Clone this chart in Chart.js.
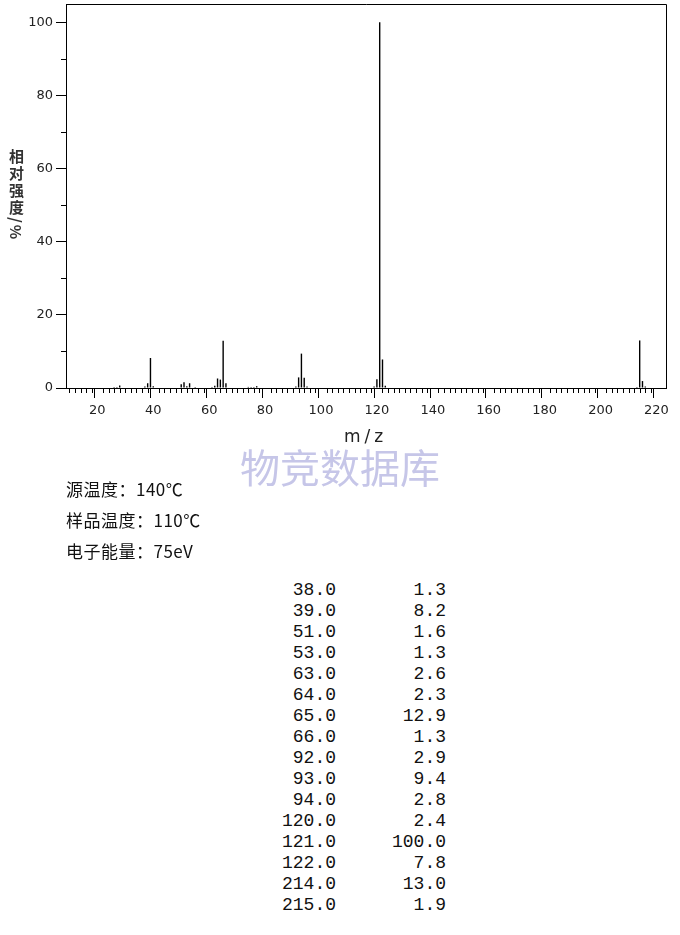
<!DOCTYPE html>
<html>
<head>
<meta charset="utf-8">
<script src="https://cdn.jsdelivr.net/npm/chart.js@4/dist/chart.umd.min.js"></script>
<style>
	body { margin: 0; background: #fff; width: 680px; height: 935px; position: relative; overflow: hidden; }
	#plot { position: absolute; left: 0; top: 0; width: 680px; height: 440px; }
	.ytitle { position: absolute; left: 6px; top: 149px; writing-mode: vertical-rl; font: bold 15px "Noto Sans CJK SC"; color: #333; letter-spacing: 2px; }
	.xtitle { position: absolute; left: 344px; top: 426px; font: 17px "DejaVu Sans"; letter-spacing: 4px; color: #222; }
	.mark { position: absolute; left: 240px; top: 437px; font: 40px "Noto Sans CJK SC"; color: #c6c6e8; }
	.info { position: absolute; left: 66px; font: 17px "Noto Sans CJK SC", "Liberation Serif"; letter-spacing: 0.5px; color: #111; }
	.cell { position: absolute; font: 18px "Liberation Mono"; color: #111; text-align: right; width: 80px; }
</style>
</head>
<body>
<div id="plot"><canvas id="ms"></canvas></div>
<div class="ytitle">相对强度/%</div>
<div class="xtitle">m/z</div>
<div class="mark">物竞数据库</div>
<div id="infos"></div>
<div id="table"></div>
<script>
//peak positions (m/z) and relative intensities
const massValues = [26, 27, 28, 37, 38, 39, 40, 50, 51, 52, 53, 55, 61, 62, 63, 64, 65, 66, 74, 75, 76, 77,
	91, 92, 93, 94, 95, 119, 120, 121, 122, 123, 213, 214, 215, 216];
const intensityValues = [0.3, 0.3, 0.7, 0.4, 1.3, 8.2, 0.5, 1.0, 1.6, 0.5, 1.3, 0.3, 0.3, 0.6, 2.6, 2.3, 12.9, 1.3, 0.3, 0.3, 0.3, 0.5,
	0.4, 2.9, 9.4, 2.8, 0.4, 0.4, 2.4, 100, 7.8, 0.6, 0.3, 13.0, 1.9, 0.4];

//axis ticks
const xTickValues = [];
for (let v = 10; v <= 220; v += 2) xTickValues.push(v);
const yTickValues = [0, 10, 20, 30, 40, 50, 60, 70, 80, 90, 100];

//measurement conditions under the chart
const infoLines = ['源温度：140℃', '样品温度：110℃', '电子能量：75eV'];

//only peaks at or above this intensity go into the table
const TABLE_LIMIT = 1.3;

//draws short minor ticks and the top/right frame of the plot
const framePlugin = {
	id: 'frame',
	afterDraw(chart) {
		const ctx = chart.ctx;
		const area = chart.chartArea;
		const xs = chart.scales.x;
		const ys = chart.scales.y;
		ctx.save();
		ctx.strokeStyle = '#000';
		ctx.lineWidth = 1;
		ctx.beginPath();
		ctx.moveTo(area.left, Math.round(area.top) + 0.5);
		ctx.lineTo(Math.round(area.right) + 0.5, Math.round(area.top) + 0.5);
		ctx.lineTo(Math.round(area.right) + 0.5, area.bottom);

		//minor ticks
		xs.ticks.forEach(t => {
			if (t.value % 20 !== 0) {
				const x = Math.round(xs.getPixelForValue(t.value)) + 0.5;
				ctx.moveTo(x, area.bottom);
				ctx.lineTo(x, area.bottom + 5);
			}
		});
		ys.ticks.forEach(t => {
			if (t.value % 20 !== 0) {
				const y = Math.round(ys.getPixelForValue(t.value)) + 0.5;
				ctx.moveTo(area.left - 5, y);
				ctx.lineTo(area.left, y);
			}
		});
		ctx.stroke();
		ctx.restore();
	}
};

//major tick colour, minors are drawn by the plugin
function majorTickColor(c) {
	return c.tick && c.tick.value % 20 === 0 ? '#000' : 'rgba(0,0,0,0)';
}

function drawSpectrum() {
	var ctx = document.getElementById('ms').getContext('2d');

	let points = [];
	massValues.forEach((m, i) => points.push({ x: m, y: intensityValues[i] }));

	var msChart = new Chart(ctx, {
		type: 'bar',
		data: {
			datasets: [{
				data: points,
				backgroundColor: '#000',
				borderWidth: 0,
				barThickness: 1.4,
				inflateAmount: 0,
				grouped: false
			}]
		},
		options: {
			responsive: true,
			maintainAspectRatio: false,
			animation: false,
			layout: { padding: { top: 4, right: 14, left: 0, bottom: 0 } },
			plugins: { legend: { display: false }, tooltip: { enabled: false } },
			scales: {
				x: {
					type: 'linear',
					min: 9.8,
					max: 222.4,
					afterBuildTicks: s => { s.ticks = xTickValues.map(v => ({ value: v })); },
					afterFit: s => { s.height = 52; s.paddingLeft = 0; s.paddingRight = 0; },
					grid: { drawOnChartArea: false, tickLength: 10, tickColor: majorTickColor },
					border: { color: '#000', width: 1 },
					ticks: {
						autoSkip: false,
						maxRotation: 0,
						padding: 5,
						color: '#222',
						font: { family: 'DejaVu Sans', size: 13 },
						callback: v => (v % 20 === 0 ? v : '')
					}
				},
				y: {
					min: 0,
					max: 105,
					afterBuildTicks: s => { s.ticks = yTickValues.map(v => ({ value: v })); },
					afterFit: s => { s.width = 66; s.paddingTop = 0; s.paddingBottom = 0; },
					grid: { drawOnChartArea: false, tickLength: 10, tickColor: majorTickColor },
					border: { color: '#000', width: 1 },
					ticks: {
						autoSkip: false,
						padding: 3,
						color: '#222',
						font: { family: 'DejaVu Sans', size: 13 },
						callback: v => (v % 20 === 0 ? v : '')
					}
				}
			}
		},
		plugins: [framePlugin]
	});
}

//writes the condition lines and the peak table as plain text
function writeTexts() {
	let infos = document.getElementById('infos');
	infoLines.forEach((line, i) => {
		let d = document.createElement('div');
		d.className = 'info';
		d.style.top = (476 + i * 31) + 'px';
		d.textContent = line;
		infos.appendChild(d);
	});

	let table = document.getElementById('table');
	let row = 0;
	massValues.forEach((m, i) => {
		if (intensityValues[i] < TABLE_LIMIT) return;
		let top = 580 + row * 21;
		let a = document.createElement('div');
		a.className = 'cell';
		a.style.left = '256px';
		a.style.top = top + 'px';
		a.textContent = m.toFixed(1);
		let b = document.createElement('div');
		b.className = 'cell';
		b.style.left = '366px';
		b.style.top = top + 'px';
		b.textContent = intensityValues[i].toFixed(1);
		table.appendChild(a);
		table.appendChild(b);
		row++;
	});
}

drawSpectrum();
writeTexts();
</script>
</body>
</html>
